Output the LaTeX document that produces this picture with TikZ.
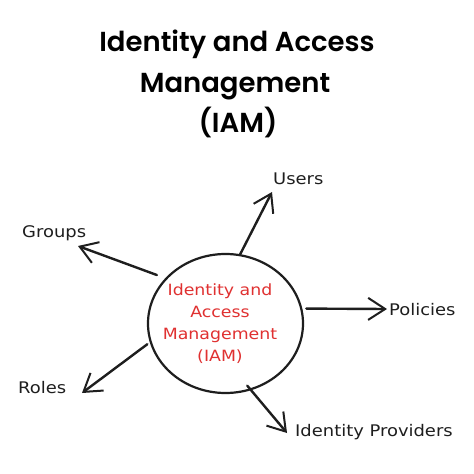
\documentclass[tikz,border=0pt]{standalone}
\usepackage{fontspec}
\usetikzlibrary{arrows.meta,shapes.geometric}
\newfontfamily\titlefont{Poppins SemiBold}
\newfontfamily\handfont{DejaVu Sans}[FakeStretch=1.12]
\definecolor{iamred}{RGB}{224,49,49}
\definecolor{ink}{RGB}{30,30,30}
\begin{document}
\begin{tikzpicture}[x=1pt,y=-1pt,
  titletext/.style={font=\titlefont\fontsize{27.5}{32}\selectfont, inner sep=0pt, anchor=base},
  hand/.style={font=\handfont\fontsize{16}{22}\selectfont, text=ink, inner sep=0pt, anchor=base west},
  hub/.style={draw=ink, ellipse, line width=2.2pt, minimum width=155pt, minimum height=139pt, inner sep=0pt},
  arr/.style={draw=ink, line width=2.4pt, line cap=round, -{Straight Barb[length=17pt,width=22pt,line width=2pt]}}
]
\useasboundingbox (0,0) rectangle (474,474);
\fill[white] (0,0) rectangle (474,474);

\node[titletext] (t1) at (237,51) {Identity and Access};
\node[titletext] (t2) at (235,92) {Management};
\node[titletext] (t3) at (238,132) {(IAM)};

\node[hub] (iam) at (225.5,323.5) {};
\node[font=\handfont\fontsize{15.5}{22}\selectfont, text=iamred, align=center, inner sep=0pt] (iamtext) at (220,324) {Identity and\\Access\\Management\\(IAM)};

\node[hand] (users) at (273,184) {Users};
\node[hand] (groups) at (22,237) {Groups};
\node[hand] (policies) at (389,315) {Policies};
\node[hand] (roles) at (18,393) {Roles};
\node[hand] (idp) at (295,436) {Identity Providers};

\coordinate (uh) at (272,192);
\coordinate (gh) at (78,246);
\coordinate (ph) at (387,309);
\coordinate (rh) at (82,393);
\coordinate (ih) at (287,433);

\draw[arr] (iam.78.5) -- (uh);
\draw[arr, shorten <=9pt] (iam.143) -- (gh);
\draw[arr, shorten <=4pt] (iam.11) -- (ph);
\draw[arr, shorten <=3pt] (iam.194) -- (rh);
\draw[arr, shorten <=-6pt] (iam.291.6) -- (ih);
\end{tikzpicture}
\end{document}
